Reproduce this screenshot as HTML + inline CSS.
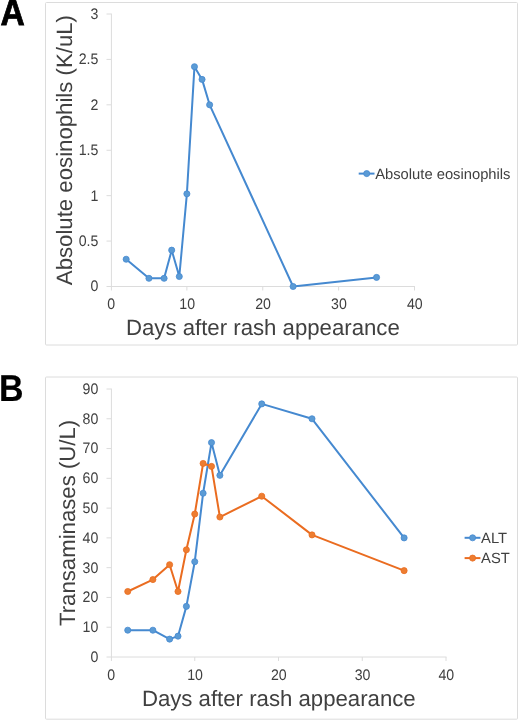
<!DOCTYPE html>
<html><head><meta charset="utf-8"><title>Figure</title>
<style>
html,body{margin:0;padding:0;background:#fff;}
body{width:520px;height:722px;overflow:hidden;}
svg{display:block;}
text{font-family:"Liberation Sans",Arial,Helvetica,sans-serif;fill:#404040;text-rendering:geometricPrecision;}
.lab{font-size:15.3px;text-rendering:geometricPrecision;}
.ttl{font-size:22.2px;}
.leg{font-size:14.75px;}
.pan{font-weight:bold;font-size:37.3px;fill:#000;}
</style></head><body>
<svg width="520" height="722" viewBox="0 0 520 722">
<rect width="520" height="722" fill="#fff"/>

<text class="pan" transform="translate(0.5 25.1) scale(0.9 1)" x="0" y="0" stroke="#000" stroke-width="0.8">A</text>
<rect x="45.5" y="2.5" width="472.0" height="342.5" rx="1" fill="#fff" stroke="#dcdcdc" stroke-width="1"/>
<g stroke="#dcdcdc" stroke-width="1" fill="none">
<path d="M111.4 13.5V290.5M106.5 286.5H415.0"/>
<path d="M106.50 241.08H111M106.50 195.67H111M106.50 150.25H111M106.50 104.83H111M106.50 59.42H111M106.50 14.00H111M186.88 286.5V290.5M262.75 286.5V290.5M338.62 286.5V290.5M414.50 286.5V290.5"/>
</g>
<text class="lab" transform="translate(98.30 291.40) scale(0.925 1)" text-anchor="end">0</text>
<text class="lab" transform="translate(98.30 245.98) scale(0.925 1)" text-anchor="end">0.5</text>
<text class="lab" transform="translate(98.30 200.57) scale(0.925 1)" text-anchor="end">1</text>
<text class="lab" transform="translate(98.30 155.15) scale(0.925 1)" text-anchor="end">1.5</text>
<text class="lab" transform="translate(98.30 109.73) scale(0.925 1)" text-anchor="end">2</text>
<text class="lab" transform="translate(98.30 64.32) scale(0.925 1)" text-anchor="end">2.5</text>
<text class="lab" transform="translate(98.30 18.90) scale(0.925 1)" text-anchor="end">3</text>
<text class="lab" transform="translate(111.30 308.8) scale(0.925 1)" text-anchor="middle">0</text>
<text class="lab" transform="translate(187.18 308.8) scale(0.925 1)" text-anchor="middle">10</text>
<text class="lab" transform="translate(263.05 308.8) scale(0.925 1)" text-anchor="middle">20</text>
<text class="lab" transform="translate(338.93 308.8) scale(0.925 1)" text-anchor="middle">30</text>
<text class="lab" transform="translate(414.80 308.8) scale(0.925 1)" text-anchor="middle">40</text>
<text class="ttl" transform="translate(71.7 150.1) rotate(-90)" text-anchor="middle">Absolute eosinophils (K/uL)</text>
<text class="ttl" x="262.9" y="334.5" text-anchor="middle">Days after rash appearance</text>
<polyline fill="none" stroke="#4589d0" stroke-width="2" stroke-linejoin="round" stroke-linecap="round" points="126.17,259.25 148.94,278.32 164.11,278.32 171.70,250.17 179.29,276.51 186.88,193.85 194.46,66.68 202.05,79.40 209.64,104.83 293.10,286.50 376.56,277.42"/>
<g fill="#5b9bd5" stroke="#4589d0" stroke-width="0.8"><circle cx="126.17" cy="259.25" r="3.05"/><circle cx="148.94" cy="278.32" r="3.05"/><circle cx="164.11" cy="278.32" r="3.05"/><circle cx="171.70" cy="250.17" r="3.05"/><circle cx="179.29" cy="276.51" r="3.05"/><circle cx="186.88" cy="193.85" r="3.05"/><circle cx="194.46" cy="66.68" r="3.05"/><circle cx="202.05" cy="79.40" r="3.05"/><circle cx="209.64" cy="104.83" r="3.05"/><circle cx="293.10" cy="286.50" r="3.05"/><circle cx="376.56" cy="277.42" r="3.05"/></g>
<path d="M358.7 173.6H374.5" stroke="#4589d0" stroke-width="2"/>
<circle cx="366.7" cy="173.6" r="3.05" fill="#5b9bd5" stroke="#4589d0" stroke-width="0.8"/>
<text class="leg" x="375.2" y="178.7">Absolute eosinophils</text>
<text class="pan" transform="translate(-1.1 400.6) scale(0.91 1)" x="0" y="0" stroke="#000" stroke-width="0.2">B</text>
<rect x="45.5" y="377.0" width="472.0" height="342.20000000000005" rx="1" fill="#fff" stroke="#dcdcdc" stroke-width="1"/>
<g stroke="#dcdcdc" stroke-width="1" fill="none">
<path d="M111.4 388.5V661M106.5 657H446.5"/>
<path d="M106.50 627.22H111M106.50 597.44H111M106.50 567.67H111M106.50 537.89H111M106.50 508.11H111M106.50 478.33H111M106.50 448.56H111M106.50 418.78H111M106.50 389.00H111M194.75 657V661M278.50 657V661M362.25 657V661M446.00 657V661"/>
</g>
<text class="lab" transform="translate(98.30 661.90) scale(0.925 1)" text-anchor="end">0</text>
<text class="lab" transform="translate(98.30 632.12) scale(0.925 1)" text-anchor="end">10</text>
<text class="lab" transform="translate(98.30 602.34) scale(0.925 1)" text-anchor="end">20</text>
<text class="lab" transform="translate(98.30 572.57) scale(0.925 1)" text-anchor="end">30</text>
<text class="lab" transform="translate(98.30 542.79) scale(0.925 1)" text-anchor="end">40</text>
<text class="lab" transform="translate(98.30 513.01) scale(0.925 1)" text-anchor="end">50</text>
<text class="lab" transform="translate(98.30 483.23) scale(0.925 1)" text-anchor="end">60</text>
<text class="lab" transform="translate(98.30 453.46) scale(0.925 1)" text-anchor="end">70</text>
<text class="lab" transform="translate(98.30 423.68) scale(0.925 1)" text-anchor="end">80</text>
<text class="lab" transform="translate(98.30 393.90) scale(0.925 1)" text-anchor="end">90</text>
<text class="lab" transform="translate(111.30 679.8) scale(0.925 1)" text-anchor="middle">0</text>
<text class="lab" transform="translate(195.05 679.8) scale(0.925 1)" text-anchor="middle">10</text>
<text class="lab" transform="translate(278.80 679.8) scale(0.925 1)" text-anchor="middle">20</text>
<text class="lab" transform="translate(362.55 679.8) scale(0.925 1)" text-anchor="middle">30</text>
<text class="lab" transform="translate(446.30 679.8) scale(0.925 1)" text-anchor="middle">40</text>
<text class="ttl" transform="translate(75.3 522.9) rotate(-90)" text-anchor="middle">Transaminases (U/L)</text>
<text class="ttl" x="278.8" y="705.6" text-anchor="middle">Days after rash appearance</text>
<polyline fill="none" stroke="#4589d0" stroke-width="2" stroke-linejoin="round" stroke-linecap="round" points="127.75,630.20 152.88,630.20 169.62,639.13 178.00,636.16 186.38,606.38 194.75,561.71 203.12,493.22 211.50,442.60 219.88,475.36 261.75,403.89 312.00,418.78 404.12,537.89"/>
<g fill="#5b9bd5" stroke="#4589d0" stroke-width="0.8"><circle cx="127.75" cy="630.20" r="3.05"/><circle cx="152.88" cy="630.20" r="3.05"/><circle cx="169.62" cy="639.13" r="3.05"/><circle cx="178.00" cy="636.16" r="3.05"/><circle cx="186.38" cy="606.38" r="3.05"/><circle cx="194.75" cy="561.71" r="3.05"/><circle cx="203.12" cy="493.22" r="3.05"/><circle cx="211.50" cy="442.60" r="3.05"/><circle cx="219.88" cy="475.36" r="3.05"/><circle cx="261.75" cy="403.89" r="3.05"/><circle cx="312.00" cy="418.78" r="3.05"/><circle cx="404.12" cy="537.89" r="3.05"/></g>
<polyline fill="none" stroke="#ea6c20" stroke-width="2" stroke-linejoin="round" stroke-linecap="round" points="127.75,591.49 152.88,579.58 169.62,564.69 178.00,591.49 186.38,549.80 194.75,514.07 203.12,463.44 211.50,466.42 219.88,517.04 261.75,496.20 312.00,534.91 404.12,570.64"/>
<g fill="#ed7d31" stroke="#ea6c20" stroke-width="0.8"><circle cx="127.75" cy="591.49" r="3.05"/><circle cx="152.88" cy="579.58" r="3.05"/><circle cx="169.62" cy="564.69" r="3.05"/><circle cx="178.00" cy="591.49" r="3.05"/><circle cx="186.38" cy="549.80" r="3.05"/><circle cx="194.75" cy="514.07" r="3.05"/><circle cx="203.12" cy="463.44" r="3.05"/><circle cx="211.50" cy="466.42" r="3.05"/><circle cx="219.88" cy="517.04" r="3.05"/><circle cx="261.75" cy="496.20" r="3.05"/><circle cx="312.00" cy="534.91" r="3.05"/><circle cx="404.12" cy="570.64" r="3.05"/></g>
<path d="M464.6 537.8H480.40000000000003" stroke="#4589d0" stroke-width="2"/>
<circle cx="472.6" cy="537.8" r="3.05" fill="#5b9bd5" stroke="#4589d0" stroke-width="0.8"/>
<text class="leg" x="481.1" y="542.9">ALT</text>
<path d="M464.6 558.1H480.40000000000003" stroke="#ea6c20" stroke-width="2"/>
<circle cx="472.6" cy="558.1" r="3.05" fill="#ed7d31" stroke="#ea6c20" stroke-width="0.8"/>
<text class="leg" x="481.1" y="563.2">AST</text>
</svg></body></html>
